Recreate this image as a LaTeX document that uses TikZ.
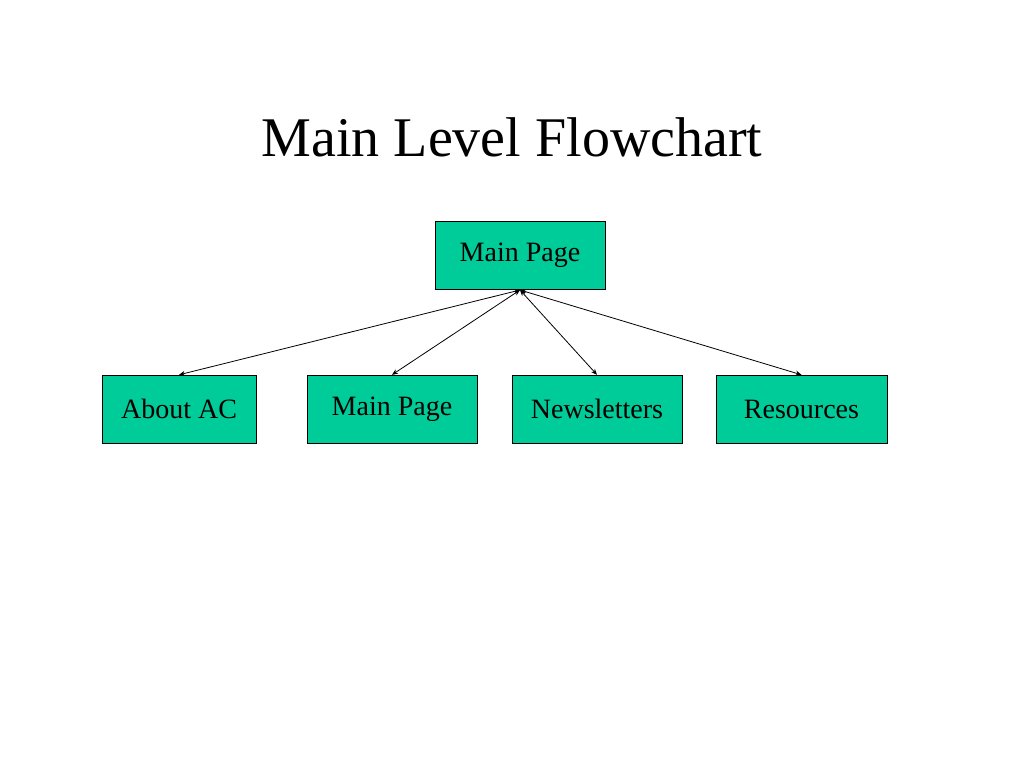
\documentclass[tikz,border=0pt]{standalone}
\usepackage{fontspec}
\setmainfont{Liberation Serif}
\usetikzlibrary{arrows.meta}
\definecolor{boxgreen}{HTML}{00CC99}
\begin{document}
\begin{tikzpicture}[x=1pt,y=-1pt,
  box/.style={draw=black,fill=boxgreen,minimum height=68pt,inner sep=0pt,font=\fontsize{28}{32}\selectfont},
  conn/.style={{Stealth[length=6pt,width=5pt]}-{Stealth[length=6pt,width=5pt]},line width=0.8pt}]
\useasboundingbox (0,0) rectangle (1024,768);
\node (title) at (512,137) {\fontsize{56}{64}\selectfont Main Level Flowchart};
\node[box,minimum width=170pt] (top) at (520,255) {Main Page};
\node[box,minimum width=154pt] (about) at (179,409) {About AC};
\node[box,minimum width=170pt] (main) at (392,409) {Main Page};
\node[box,minimum width=170pt] (news) at (597,409) {Newsletters};
\node[box,minimum width=171pt] (res) at (801.5,409) {Resources};
\coordinate (hub) at (520,290);
\draw[conn] (hub) -- (about.north);
\draw[conn] (hub) -- (main.north);
\draw[conn] (hub) -- (news.north);
\draw[conn] (hub) -- (res.north);
\end{tikzpicture}
\end{document}
